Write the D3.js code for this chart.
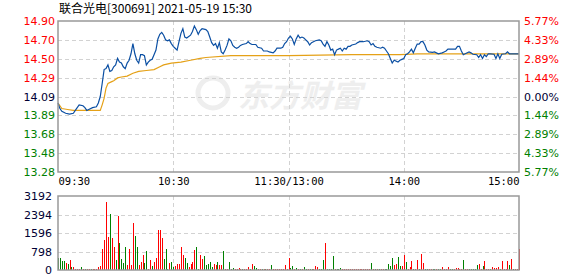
<!DOCTYPE html>
<html>
<head>
<meta charset="utf-8">
<title>联合光电 分时图</title>
<style>
  body { margin: 0; background: #fff; }
  svg { display: block; }
  .grid line { stroke: #d2d2d2; stroke-dasharray: 4,3; shape-rendering: crispEdges; }
  .frame { fill: none; stroke: #999; stroke-width: 1.5; }
  .ax path, .ax line { display: none; }
  .ax text { font-family: "DejaVu Sans", sans-serif; font-size: 11px; }
  .time text { font-family: "DejaVu Sans Mono", monospace; font-size: 10.5px; fill: #000; }
  .bars rect { shape-rendering: crispEdges; }
</style>
</head>
<body>
<svg id="chart" width="578" height="276"></svg>
<script src="https://d3js.org/d3.v7.min.js"></script>
<script>
// ---- data ----
const title = "联合光电[300691] 2021-05-19 15:30";
const preClose = 14.09;
const pctTicks = [5.77, 4.33, 2.89, 1.44, 0, -1.44, -2.89, -4.33, -5.77];
const priceLabels = ["14.90","14.70","14.50","14.29","14.09","13.89","13.68","13.48","13.28"];
const pctLabels = ["5.77%","4.33%","2.89%","1.44%","0.00%","1.44%","2.89%","4.33%","5.77%"];
const timeLabels = ["09:30","10:30","11:30/13:00","14:00","15:00"];
const timeTicks = [0, 60, 120, 180, 240];
const volTicks = [0, 798, 1596, 2394, 3192];

// [minute index, price]
const pricePts = [[0,14.02],[1,13.96],[2,13.93],[4,13.91],[6,13.90],[8,13.91],[9,13.94],[11,14.00],[13,13.99],[14,13.97],
  [15,13.94],[16,13.95],[18,13.97],[20,13.98],[21,14.02],[22,14.09],[23,14.23],[24,14.38],[25,14.39],[26,14.43],
  [27,14.36],[28,14.37],[29,14.41],[30,14.43],[31,14.50],[32,14.46],[33,14.45],[34,14.41],[35,14.39],[36,14.45],
  [37,14.48],[38,14.55],[39,14.66],[40,14.55],[41,14.48],[42,14.45],[43,14.54],[44,14.54],[45,14.53],[46,14.43],
  [47,14.46],[48,14.48],[49,14.49],[50,14.54],[51,14.59],[52,14.71],[53,14.76],[54,14.78],[55,14.75],[56,14.70],
  [57,14.69],[58,14.70],[59,14.66],[60,14.63],[61,14.61],[62,14.59],[63,14.68],[64,14.77],[65,14.82],[66,14.73],
  [67,14.72],[69,14.75],[70,14.79],[71,14.85],[72,14.81],[73,14.76],[74,14.80],[75,14.82],[77,14.81],[78,14.79],
  [79,14.73],[80,14.67],[81,14.64],[82,14.66],[83,14.61],[84,14.67],[85,14.57],[86,14.55],[87,14.59],[88,14.64],
  [89,14.71],[90,14.69],[91,14.64],[92,14.62],[93,14.61],[94,14.62],[95,14.64],[96,14.65],[98,14.66],[99,14.68],
  [100,14.66],[101,14.65],[103,14.65],[104,14.62],[106,14.61],[107,14.58],[109,14.58],[110,14.57],[112,14.56],[113,14.58],
  [114,14.61],[116,14.61],[117,14.62],[118,14.66],[119,14.68],[120,14.72],[121,14.74],[122,14.71],[123,14.65],[124,14.71],
  [125,14.75],[126,14.72],[127,14.73],[128,14.72],[129,14.70],[130,14.68],[131,14.645],[132,14.67],[134,14.69],[136,14.70],
  [137,14.69],[138,14.655],[139,14.63],[140,14.68],[141,14.645],[142,14.59],[143,14.60],[144,14.54],[145,14.59],[146,14.60],
  [147,14.61],[148,14.58],[149,14.61],[150,14.60],[151,14.63],[152,14.63],[153,14.645],[155,14.655],[156,14.67],[157,14.68],
  [159,14.68],[161,14.69],[162,14.68],[163,14.645],[164,14.66],[165,14.63],[166,14.62],[168,14.61],[169,14.62],[170,14.61],
  [171,14.58],[172,14.55],[173,14.50],[174,14.45],[175,14.48],[177,14.46],[178,14.48],[179,14.49],[180,14.50],[181,14.54],
  [182,14.55],[183,14.57],[184,14.60],[185,14.56],[186,14.61],[187,14.655],[188,14.655],[189,14.68],[190,14.68],[191,14.645],
  [192,14.59],[193,14.57],[195,14.565],[196,14.57],[198,14.55],[200,14.56],[201,14.57],[202,14.58],[203,14.60],[205,14.60],
  [207,14.60],[208,14.63],[209,14.63],[210,14.58],[211,14.54],[212,14.55],[214,14.57],[215,14.56],[216,14.545],[218,14.54],
  [219,14.51],[220,14.54],[221,14.50],[222,14.54],[223,14.52],[224,14.55],[225,14.55],[227,14.545],[228,14.50],[229,14.55],
  [230,14.50],[231,14.545],[233,14.55],[234,14.57],[235,14.55],[237,14.55],[240,14.55]];

// average price line
const avgPts = [[0,14.02],[2,13.96],[5,13.95],[8,13.94],[22,13.94],[23,14.00],[24,14.07],[25,14.18],[26,14.23],[28,14.25],
  [29,14.26],[31,14.29],[33,14.30],[36,14.31],[39,14.34],[42,14.36],[46,14.37],[50,14.38],[53,14.41],[55,14.43],
  [59,14.45],[64,14.46],[69,14.48],[74,14.50],[77,14.51],[90,14.53],[120,14.53],[153,14.54],[178,14.54],[187,14.55],[240,14.55]];

// volume per minute (hands), 241 minutes
const volumes = [
  500,505,388,388,290,259,431,120,120,60,
  60,60,120,40,40,40,40,40,40,40,
  60,120,170,891,1294,2934,1409,2416,1366,977,
  431,2330,1150,460,316,977,216,891,216,2042,
  1467,977,216,360,647,316,834,40,431,172,
  360,532,1725,1725,1366,474,905,40,316,360,
  120,172,259,259,1006,647,532,316,120,259,
  360,863,1006,40,647,474,604,216,259,345,
  120,259,201,360,216,216,834,40,40,360,
  40,86,40,40,86,40,40,40,60,120,
  40,259,172,86,40,40,40,40,40,40,
  40,201,40,40,40,40,40,40,201,40,
  532,86,172,40,86,40,40,40,120,40,
  40,40,40,40,172,120,40,40,431,1179,
  40,40,40,604,40,40,40,86,40,40,
  40,40,40,40,40,40,40,40,40,40,
  40,40,40,316,40,40,40,40,40,40,
  40,40,259,172,518,216,259,561,172,172,
  647,345,40,120,388,40,40,431,40,690,
  287,40,40,40,40,40,40,40,40,50,
  120,40,40,120,40,40,40,86,86,40,
  40,431,40,40,40,40,40,40,216,259,
  40,172,388,40,40,40,120,86,86,120,
  60,388,40,40,388,216,474,40,40,40,905];
// r = up minute, g = down minute
const volDir =
  "ggggrgrgrr" + "rrgrgrrgrr" + "rrrrrrrgrr" + "grggggrrrr" + "ggrrrggrrg" +
  "rrrrrgggrg" + "grrrrrggrr" + "rrggrrgggg" + "grrgrrgrrg" + "ggrrrrgrrr" +
  "grggrrgrgr" + "rgrrrrrrrr" + "rggrgrgrgg" + "rggrrrgggr" + "ggggrgggrr" +
  "rrrrrrrrrr" + "rrrgrgrgrr" + "gggggrrggr" + "rgrrrgrrgr" + "rggrrggrgg" +
  "rrrrggrrrr" + "rgrrgggggr" + "rgrrrgrrrr" + "grrrrgrgrrr";

// ---- layout ----
const svg = d3.select("#chart");
const left = 58, right = 519;
const pTop = 21, pBot = 172, vTop = 196, vBot = 270;
const RED = "#ff0000", GREEN = "#008000", DARK = "#000033";

const x = d3.scaleLinear().domain([0, 240]).range([left, right]);
const y = d3.scaleLinear()
  .domain([preClose * (1 - 0.0577), preClose * (1 + 0.0577)])
  .range([pBot, pTop]);
const yv = d3.scaleLinear().domain([0, 3192]).range([vBot, vTop]);
const tickPrice = pctTicks.map(p => preClose * (1 + p / 100));

// watermark
const wm = svg.append("g").attr("fill", "#eeeeee");
wm.append("circle").attr("cx", 213).attr("cy", 93).attr("r", 15)
  .attr("fill", "none").attr("stroke", "#eeeeee").attr("stroke-width", 5);
wm.append("text").attr("x", 238).attr("y", 107)
  .style("font-family", "'Noto Sans CJK SC'").style("font-size", "31px").style("font-weight", "bold")
  .style("font-style", "italic").text("东方财富");

// grids
const g1 = svg.append("g").attr("class", "grid");
g1.selectAll(".h").data(tickPrice.slice(1, -1)).join("line")
  .attr("x1", left).attr("x2", right)
  .attr("y1", d => Math.round(y(d)) + 0.5).attr("y2", d => Math.round(y(d)) + 0.5);
g1.selectAll(".vh").data(volTicks.slice(1, -1)).join("line").attr("class", "vh")
  .attr("x1", left).attr("x2", right)
  .attr("y1", d => Math.round(yv(d)) + 0.5).attr("y2", d => Math.round(yv(d)) + 0.5);
[[pTop, pBot], [vTop, vBot]].forEach(([a, b]) => {
  g1.append("g").selectAll("line").data(timeTicks.slice(1, -1)).join("line")
    .attr("x1", d => Math.round(x(d)) + 0.5).attr("x2", d => Math.round(x(d)) + 0.5)
    .attr("y1", a).attr("y2", b);
});

// volume bars
svg.append("g").attr("class", "bars").selectAll("rect").data(volumes).join("rect")
  .attr("x", (d, i) => Math.round(x(i)))
  .attr("width", 1)
  .attr("y", d => Math.round(yv(d)))
  .attr("height", d => Math.max(1, vBot - Math.round(yv(d))))
  .attr("fill", (d, i) => volDir[i] === "r" ? RED : GREEN);

// lines
const line = d3.line().x(d => x(d[0])).y(d => y(d[1]));
svg.append("path").datum(avgPts).attr("d", line)
  .attr("fill", "none").attr("stroke", "#e5a117").attr("stroke-width", 1.2);
svg.append("path").datum(pricePts).attr("d", line)
  .attr("fill", "none").attr("stroke", "#0b4fa3").attr("stroke-width", 1.2);

// frames
svg.append("rect").attr("class", "frame").attr("x", left).attr("y", pTop)
  .attr("width", right - left).attr("height", pBot - pTop);
svg.append("rect").attr("class", "frame").attr("x", left).attr("y", vTop)
  .attr("width", right - left).attr("height", vBot - vTop);

// axes
const colorOf = i => i < 4 ? RED : (i === 4 ? DARK : GREEN);
svg.append("g").attr("class", "ax").attr("transform", `translate(${left},0)`)
  .call(d3.axisLeft(y).tickValues(tickPrice).tickFormat((d, i) => priceLabels[i]).tickSize(0).tickPadding(3))
  .selectAll("text").attr("fill", (d, i) => colorOf(i));
svg.append("g").attr("class", "ax").attr("transform", `translate(${right},0)`)
  .call(d3.axisRight(y).tickValues(tickPrice).tickFormat((d, i) => pctLabels[i]).tickSize(0).tickPadding(5))
  .selectAll("text").attr("fill", (d, i) => colorOf(i));
svg.append("g").attr("class", "ax").attr("transform", `translate(${left},0)`)
  .call(d3.axisLeft(yv).tickValues(volTicks).tickFormat(d3.format("d")).tickSize(0).tickPadding(6))
  .selectAll("text").attr("fill", DARK);
svg.append("g").attr("class", "ax time").attr("transform", `translate(0,${pBot})`)
  .call(d3.axisBottom(x).tickValues(timeTicks).tickFormat((d, i) => timeLabels[i]).tickSize(0).tickPadding(6))
  .selectAll("text")
  .attr("text-anchor", (d, i) => i === 0 ? "start" : (i === timeTicks.length - 1 ? "end" : "middle"));

// title
svg.append("text").attr("x", 59).attr("y", 13)
  .style("font-family", "'Noto Sans CJK SC', sans-serif").style("font-size", "12px")
  .attr("fill", "#000").text(title);
</script>
</body>
</html>
